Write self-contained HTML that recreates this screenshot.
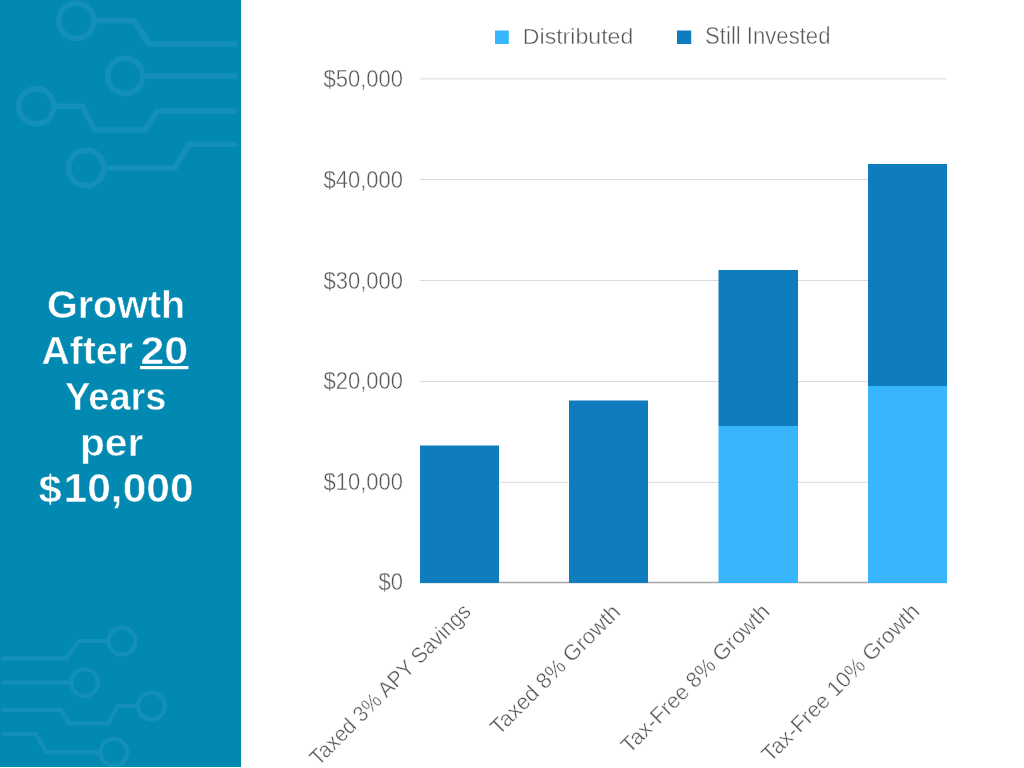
<!DOCTYPE html>
<html>
<head>
<meta charset="utf-8">
<style>
html,body{margin:0;padding:0;background:#fff;width:1024px;height:768px;overflow:hidden;}
svg{display:block;will-change:transform;}
text{font-family:"Liberation Sans",sans-serif;}
</style>
</head>
<body>
<svg width="1024" height="768" viewBox="0 0 1024 768">
  <rect x="0" y="0" width="1024" height="768" fill="#ffffff"/>
  <!-- left panel -->
  <rect x="0" y="0" width="241" height="767" fill="#0289B1"/>
  <defs><clipPath id="pc"><rect x="0" y="0" width="241" height="767"/></clipPath></defs>
  <g clip-path="url(#pc)" fill="none" stroke="#1490B8" stroke-width="5.6" stroke-linecap="round" stroke-linejoin="miter">
    <!-- top pattern -->
    <circle cx="76.3" cy="20.8" r="17.6"/>
    <path d="M93.6 20.6 H134 L149 43.8 H234.5"/>
    <circle cx="125.3" cy="75.9" r="17.6"/>
    <path d="M142.6 75.9 H234.5"/>
    <circle cx="36.3" cy="106.3" r="17.6"/>
    <path d="M53.9 106.3 H82.5 L94.5 130 H145 L157 111.3 H234.5"/>
    <circle cx="86.3" cy="168" r="17.6"/>
    <path d="M103.9 168 H175 L189 144.3 H234.5"/>
    <!-- bottom pattern -->
    <g stroke-width="4.2">
    <circle cx="121.8" cy="641" r="13.4"/>
    <path d="M108.8 641 H78.8 L66.3 658.4 H3.2"/>
    <circle cx="84.5" cy="682.5" r="13.4"/>
    <path d="M71.5 682.5 H3.2"/>
    <circle cx="151.3" cy="706" r="13.4"/>
    <path d="M138.3 706 H117.5 L108 723.5 H69.5 L60.5 709.8 H3.2"/>
    <circle cx="113.8" cy="752.3" r="13.4"/>
    <path d="M100.8 752.3 H46.3 L35.8 734 H3.2"/>
    </g>
  </g>
  <!-- title -->
  <g fill="#ffffff" stroke="#0289B1" stroke-width="0.5" font-weight="bold" font-size="38">
    <text transform="translate(47,318) scale(1.04,1)">Growth</text>
    <text transform="translate(41.5,363.75) scale(1.03,1)">After</text>
    <text transform="translate(140.5,363.75) scale(1.13,1)">20</text>
    <rect x="140" y="366" width="48.4" height="3.2" fill="#ffffff" stroke="none"/>
    <text transform="translate(65,410) scale(1.0,1)">Years</text>
    <text transform="translate(80,455.5) scale(1.07,1)">per</text>
    <text transform="translate(38.5,502) scale(1.1,1.03)">$</text>
    <text transform="translate(63.5,502) scale(1.12,1.05)">10,000</text>
  </g>

  <!-- gridlines -->
  <g stroke="#DADADA" stroke-width="1">
    <line x1="420" y1="78.9" x2="947" y2="78.9"/>
    <line x1="420" y1="179.5" x2="947" y2="179.5"/>
    <line x1="420" y1="280.5" x2="947" y2="280.5"/>
    <line x1="420" y1="381.5" x2="947" y2="381.5"/>
    <line x1="420" y1="482.3" x2="947" y2="482.3"/>
  </g>
  <!-- bars -->
  <line x1="420" y1="582.6" x2="947" y2="582.6" stroke="#A8A8A8" stroke-width="1.5"/>
  <g>
    <rect x="420" y="445.5" width="79" height="137.5" fill="#0E7CBD"/>
    <rect x="569" y="400.5" width="79" height="182.5" fill="#0E7CBD"/>
    <rect x="718.5" y="270" width="79.5" height="156" fill="#0E7CBD"/>
    <rect x="718.5" y="426" width="79.5" height="157" fill="#38B6FD"/>
    <rect x="868" y="164" width="79" height="222" fill="#0E7CBD"/>
    <rect x="868" y="386" width="79" height="197" fill="#38B6FD"/>
  </g>

  <!-- y labels -->
  <g fill="#575757" stroke="#ffffff" stroke-width="0.4" font-size="22" text-anchor="end">
    <text transform="translate(403,87) scale(1,1.065)">$50,000</text>
    <text transform="translate(403,187.5) scale(1,1.065)">$40,000</text>
    <text transform="translate(403,288.5) scale(1,1.065)">$30,000</text>
    <text transform="translate(403,389.4) scale(1,1.065)">$20,000</text>
    <text transform="translate(403,490) scale(1,1.065)">$10,000</text>
    <text transform="translate(403,590.3) scale(1,1.065)">$0</text>
  </g>

  <!-- legend -->
  <rect x="495" y="30.5" width="13.8" height="13.5" fill="#38B6FD"/>
  <rect x="677" y="30.5" width="14.2" height="13.5" fill="#0E7CBD"/>
  <g fill="#575757" stroke="#ffffff" stroke-width="0.4" font-size="22">
    <text transform="translate(522.8,44.1) scale(1.052,1.035)">Distributed</text>
    <text transform="translate(705.1,44.1) scale(1.005,1.05)">Still Invested</text>
  </g>

  <!-- x labels -->
  <g fill="#575757" stroke="#ffffff" stroke-width="0.4" font-size="22">
    <text transform="translate(318.5,766.5) rotate(-45) scale(0.947,1)">Taxed 3% APY Savings</text>
    <text transform="translate(498.95,736.05) rotate(-45) scale(1.0,1)">Taxed 8% Growth</text>
    <text transform="translate(629.85,754.15) rotate(-45) scale(0.99,1)">Tax-Free 8% Growth</text>
    <text transform="translate(770.45,763.05) rotate(-45) scale(0.994,1)">Tax-Free 10% Growth</text>
  </g>
</svg>
</body>
</html>
